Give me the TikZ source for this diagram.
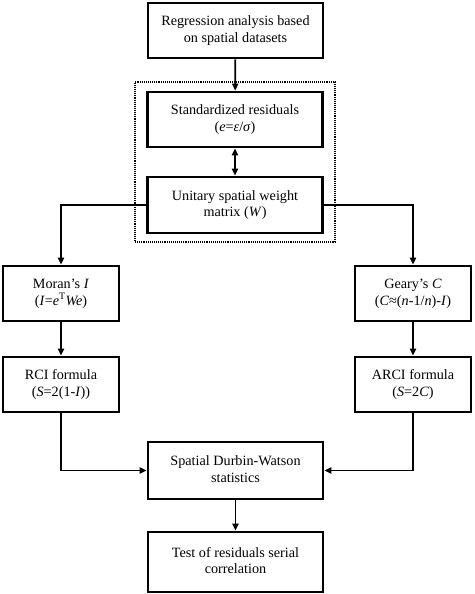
\documentclass[tikz,border=0pt]{standalone}
\usepackage{fontspec}
\setmainfont{Liberation Serif}
\usetikzlibrary{arrows.meta}
\newcommand{\twol}[2]{\raisebox{3.5pt}{\begin{tabular}{@{}c@{}}#1\\#2\end{tabular}}}
\tikzset{
  box/.style={draw, line width=2.6pt, minimum height=55pt, inner sep=0pt,
    font=\fontsize{14.2}{16.5}\selectfont},
  wide/.style={box, minimum width=175pt},
  narrow/.style={box, minimum width=116pt},
  arr/.style={line width=1.8pt, -{Triangle[length=7pt,width=6pt]}},
  darr/.style={line width=1.8pt, {Triangle[length=7pt,width=6pt]}-{Triangle[length=7pt,width=6pt]}},
  frame/.style={draw, densely dotted, line width=1.1pt}
}
\begin{document}
\begin{tikzpicture}[x=1pt,y=-1pt]
\useasboundingbox (0,0) rectangle (474,594);
\node[frame, minimum width=200pt, minimum height=160pt] (dot) at (235,162) {};
\node[wide] (top) at (235.5,30.5) {\twol{Regression analysis based}{on spatial datasets}};
\node[wide] (std) at (235,119.5) {\twol{Standardized residuals}{(\textit{e}=\textit{ε}/\textit{σ})}};
\node[wide, minimum height=56pt] (unit) at (235,205) {\twol{Unitary spatial weight}{matrix (\textit{W})}};
\node[narrow] (moran) at (61,293.5) {\twol{Moran’s \textit{I}}{(\textit{I}=\textit{e}\textsuperscript{T}\textit{We})}};
\node[narrow] (geary) at (413,293.5) {\twol{Geary’s \textit{C}}{(\textit{C}≈(\textit{n}-1/\textit{n})-\textit{I})}};
\node[narrow] (rci) at (61,384.5) {\twol{RCI formula}{(\textit{S}=2(1-\textit{I}))}};
\node[narrow] (arci) at (413,384.5) {\twol{ARCI formula}{(\textit{S}=2\textit{C})}};
\node[wide, minimum height=57pt] (sdw) at (235.5,470.5) {\twol{Spatial Durbin-Watson}{statistics}};
\node[wide, minimum height=60pt] (test) at (235.5,562) {\twol{Test of residuals serial}{correlation}};
\draw[arr] (top) -- (std);
\draw[darr] (std) -- (unit);
\draw[arr] (unit.west) -| (moran.north);
\draw[arr] (unit.east) -| (geary.north);
\draw[arr] (moran) -- (rci);
\draw[arr] (geary) -- (arci);
\draw[arr] (rci.south) |- (sdw.west);
\draw[arr] (arci.south) |- (sdw.east);
\draw[arr] (sdw) -- (test);
\end{tikzpicture}
\end{document}
